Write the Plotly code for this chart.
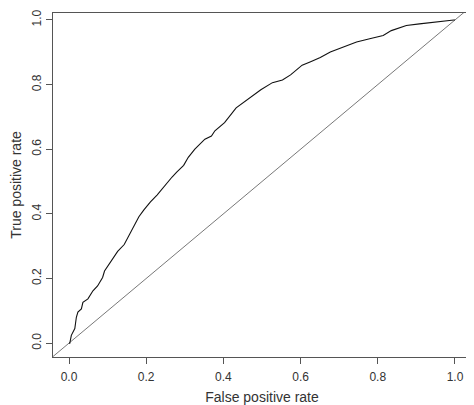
import plotly.graph_objects as go

# ROC curve points
fpr = [0.0, 0.002, 0.006, 0.015, 0.019, 0.023, 0.032, 0.036, 0.049, 0.062, 0.074,
       0.087, 0.092, 0.104, 0.113, 0.126, 0.143, 0.156, 0.168, 0.181, 0.194,
       0.211, 0.228, 0.245, 0.267, 0.279, 0.297, 0.309, 0.318, 0.326, 0.352,
       0.369, 0.378, 0.403, 0.433, 0.455, 0.480, 0.497, 0.527, 0.553, 0.574,
       0.604, 0.626, 0.651, 0.677, 0.698, 0.745, 0.779, 0.814, 0.835, 0.874,
       0.908, 0.959, 0.997, 1.0]
tpr = [0.0, 0.0, 0.024, 0.045, 0.080, 0.096, 0.106, 0.126, 0.137, 0.162, 0.177,
       0.203, 0.223, 0.244, 0.259, 0.284, 0.305, 0.335, 0.361, 0.391, 0.412,
       0.437, 0.458, 0.483, 0.514, 0.529, 0.550, 0.575, 0.590, 0.600, 0.631,
       0.641, 0.657, 0.682, 0.728, 0.748, 0.769, 0.784, 0.806, 0.814, 0.830,
       0.860, 0.871, 0.884, 0.901, 0.911, 0.932, 0.942, 0.952, 0.967, 0.983,
       0.988, 0.996, 1.0, 1.0]

diag = [-0.05, 1.05]
ticks = [0.0, 0.2, 0.4, 0.6, 0.8, 1.0]
tick_text = ['0.0', '0.2', '0.4', '0.6', '0.8', '1.0']

fig = go.Figure()
fig.add_trace(go.Scatter(x=diag, y=diag, mode='lines',
                         line=dict(color='#555555', width=0.8), hoverinfo='skip'))
fig.add_trace(go.Scatter(x=fpr, y=tpr, mode='lines',
                         line=dict(color='#111111', width=1.1)))

axis_style = dict(
    showgrid=False, zeroline=False,
    showline=True, linecolor='#555555', linewidth=1, mirror=True,
    ticks='outside', ticklen=6, tickcolor='#555555', tickwidth=1,
    tickvals=ticks, ticktext=tick_text,
    tickfont=dict(family='Liberation Sans', size=12, color='#333333'),
    ticklabeloverflow='allow',
)

# page body has an 8px margin, so the figure is a bit smaller than the window
fig.update_layout(
    width=466, height=397,
    margin=dict(l=42, r=2, t=2, b=48),
    plot_bgcolor='white', paper_bgcolor='white',
    showlegend=False,
    font=dict(family='Liberation Sans', size=12, color='#333333'),
    xaxis=dict(axis_style, range=[-0.0415, 1.0415], ticklabelstandoff=3,
               title=dict(text='False positive rate', standoff=9)),
    yaxis=dict(axis_style, tickangle=-90, range=[-0.043, 1.0215],
               title=dict(text='True positive rate', standoff=10)),
)

fig.write_html("out.html")
